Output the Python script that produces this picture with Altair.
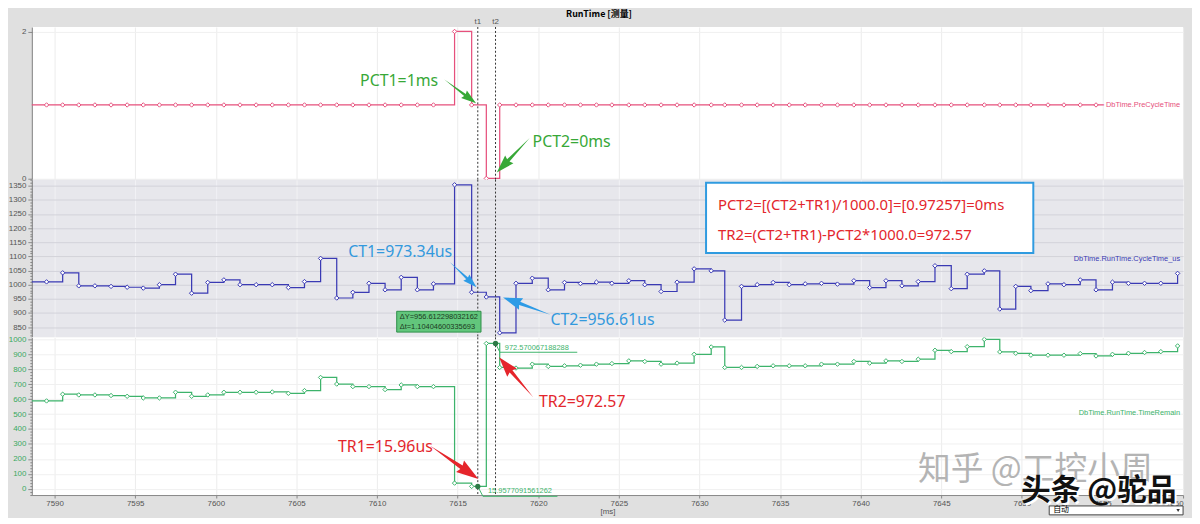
import altair as alt
import pandas as pd

# ---------------- data ----------------
chart_title = "RunTime [测量]"
times = [7588.5, 7589.5, 7590.5, 7591.5, 7592.5, 7593.5, 7594.5, 7595.5, 7596.5, 7597.5,
         7598.5, 7599.5, 7600.5, 7601.5, 7602.5, 7603.5, 7604.5, 7605.5, 7606.5, 7607.5,
         7608.5, 7609.5, 7610.5, 7611.5, 7612.5, 7613.5,
         7614.81, 7615.87, 7616.78,
         7617.61, 7618.62, 7619.63, 7620.62, 7621.63, 7622.62, 7623.61,
         7624.57, 7625.62, 7626.61, 7627.62, 7628.61, 7629.67, 7630.73, 7631.57, 7632.61, 7633.58,
         7634.57, 7635.57, 7636.56, 7637.57, 7638.56, 7639.58, 7640.56, 7641.57, 7642.56, 7643.57,
         7644.61, 7645.62, 7646.61, 7647.67, 7648.63, 7649.62, 7650.56, 7651.62, 7652.61, 7653.62,
         7654.60, 7655.62, 7656.61, 7657.61, 7658.62, 7659.66]
pre_cycle = [1, 1, 1, 1, 1, 1, 1, 1, 1, 1,
             1, 1, 1, 1, 1, 1, 1, 1, 1, 1,
             1, 1, 1, 1, 1, 1,
             2, 1, 0,
             1, 1, 1, 1, 1, 1, 1,
             1, 1, 1, 1, 1, 1, 1, 1, 1, 1,
             1, 1, 1, 1, 1, 1, 1, 1, 1, 1,
             1, 1, 1, 1, 1, 1, 1, 1, 1, 1,
             1, 1, 1, 1, 1, 1]
cycle_us = [1010, 1010, 1042, 996, 996, 994, 991, 988, 1000, 1037,
            970, 1008, 1017, 1000, 1000, 1000, 990, 1011, 1093, 953,
            973, 1005, 982, 1026, 982, 1003,
            1353, 973.34, 956.61,
            830, 1005, 1023, 982, 1008, 1004, 1009,
            1005, 1014, 1000, 976, 1009, 1056, 1049, 875, 994, 1000,
            1008, 1000, 1003, 1005, 1002, 1014, 990, 1014, 996, 1011,
            1067, 986, 1037, 1049, 914, 994, 979, 1003, 1000, 1017,
            982, 1009, 1005, 1005, 1005, 1040]
time_remain = [588, 588, 633, 628, 628, 624, 619, 608, 608, 646,
               619, 628, 646, 646, 646, 648, 639, 657, 745, 701,
               684, 684, 664, 695, 684, 684,
               38, 15.96, 972.57,
               812, 808, 834, 819, 823, 827, 834,
               838, 856, 852, 834, 841, 900, 949, 812, 812, 819,
               823, 823, 823, 834, 834, 852, 841, 856, 852, 867,
               927, 918, 951, 1000, 916, 907, 894, 894, 894, 905,
               889, 900, 907, 912, 918, 956]
series_names = ["DbTime.PreCycleTime", "DbTime.RunTime.CycleTime_us", "DbTime.RunTime.TimeRemain"]
x_ticks = [7590, 7595, 7600, 7605, 7610, 7615, 7620, 7625, 7630, 7635, 7640, 7645, 7650, 7655, 7660]
y1_ticks = [0, 0.25, 0.5, 0.75, 1, 1.25, 1.5, 1.75, 2]
y2_ticks = list(range(820, 1371, 10))
y3_ticks = list(range(-40, 1001, 20))
cursor_names = ["t1", "t2"]
cursor_times = [7616.25, 7617.35]

# annotations (data units)
pct_texts = ["PCT1=1ms", "PCT2=0ms"]
ct_texts = ["CT1=973.34us", "CT2=956.61us"]
tr_texts = ["TR2=972.57", "TR1=15.96us"]
formula_texts = ["PCT2=[(CT2+TR1)/1000.0]=[0.97257]=0ms", "TR2=(CT2+TR1)-PCT2*1000.0=972.57"]
readout_texts = ["ΔY=956.612298032162", "Δt=1.10404600335693"]
value_texts = ["972.570067188288", "15.9577091561262"]
watermark1 = "知乎 @工控小周"
watermark2 = "头条 @驼品"
dropdown_text = "自动"

# ---------------- layout ----------------
W = 1161
H1, H2, H3 = 154, 159, 159
X_DOMAIN = [7588.585, 7660.0]
Y1 = [-0.0175, 2.061]
Y2 = [813.9, 1371.0]
Y3 = [-41.8, 1013.3]

PINK = "#e6507c"
BLUE = "#3a3ab4"
GREEN = "#3db36b"
A_GREEN = "#37a837"
A_BLUE = "#3399dd"
A_RED = "#e3262c"
ARROW = "M -1 0 L 0.3 -0.07 L 0.24 -0.24 L 1 0 L 0.24 0.24 L 0.3 0.07 Z"


def xenc(bottom, grid_color):
    if bottom:
        axis = alt.Axis(values=x_ticks, format="d", title="[ms]", grid=True, gridColor=grid_color,
                        labelFontSize=8, labelColor="#555555", labelFont="Liberation Sans",
                        tickSize=3, tickColor="#888888", domainColor="#888888", labelPadding=2,
                        titleFontSize=8, titleFont="Liberation Sans", titleColor="#555555",
                        titleFontWeight="normal", titlePadding=0)
    else:
        axis = alt.Axis(values=x_ticks, labels=False, ticks=False, domain=False, grid=True,
                        gridColor=grid_color, title=None, minExtent=0, maxExtent=0)
    return alt.X("t:Q", scale=alt.Scale(domain=X_DOMAIN, nice=False, zero=False), axis=axis)


def yenc(dom, vals, major, label_color, grid_color):
    test = f"abs(datum.value - round(datum.value / {major}) * {major}) < 1e-6"
    axis = alt.Axis(values=vals, format="d", title=None, labelExpr=f"{test} ? datum.label : ''",
                    labelFontSize=8, labelFont="Liberation Sans", labelColor=label_color, labelPadding=2,
                    tickColor="#8a8a8a", tickSize={"condition": {"test": test, "value": 4}, "value": 2},
                    domainColor="#777777", grid=True, gridColor=grid_color,
                    gridOpacity={"condition": {"test": test, "value": 1}, "value": 0},
                    minExtent=20, maxExtent=20, labelOverlap=False)
    return alt.Y("v:Q", scale=alt.Scale(domain=dom, nice=False, zero=False), axis=axis)


def series_layers(vals, color, X, Y, label, label_v, halo=None):
    d = pd.DataFrame({"t": times, "v": vals})
    line = alt.Chart(d).mark_line(interpolate="step-after", color=color, strokeWidth=1.25,
                                  clip=True).encode(x=X, y=Y)
    pts = alt.Chart(d).transform_filter(f"datum.t > {X_DOMAIN[0]}").mark_point(
        shape="diamond", size=20, filled=True, fill="#ffffff", stroke=color, strokeWidth=1,
        opacity=1, clip=True).encode(x=X, y=Y)
    ldf = pd.DataFrame({"t": [X_DOMAIN[1]], "v": [label_v], "txt": [label]})
    layers = [line, pts]
    if halo:
        layers.append(alt.Chart(ldf).mark_text(
            align="right", baseline="middle", dx=-3, fontSize=7.5, font="Liberation Sans",
            color=halo, stroke=halo, strokeWidth=5).encode(x=X, y=Y, text="txt:N"))
    layers.append(alt.Chart(ldf).mark_text(
        align="right", baseline="middle", dx=-3, fontSize=7.5, font="Liberation Sans",
        color=color).encode(x=X, y=Y, text="txt:N"))
    return layers


def cursor_layer(X):
    d = pd.DataFrame({"t": cursor_times})
    return alt.Chart(d).mark_rule(color="#333333", strokeDash=[2, 2], strokeWidth=1).encode(x=X)


def text_layer(ts, vs, txts, color, X, Y, size=16, font="Noto Sans", align="left"):
    d = pd.DataFrame({"t": ts, "v": vs, "txt": txts})
    return alt.Chart(d).mark_text(align=align, baseline="middle", fontSize=size, font=font,
                                  color=color).encode(x=X, y=Y, text="txt:N")


def arrow_layer(ts, vs, angs, lens, color, X, Y):
    d = pd.DataFrame({"t": ts, "v": vs, "ang": angs, "sz": [l * l for l in lens]})
    return alt.Chart(d).mark_point(shape=ARROW, filled=True, color=color, opacity=1,
                                   strokeWidth=0).encode(
        x=X, y=Y, angle=alt.Angle("ang:Q", scale=None), size=alt.Size("sz:Q", scale=None))


# ---------------- panel 1 ----------------
X1 = xenc(False, "#ececec")
YA = yenc(Y1, y1_ticks, 1, "#555555", "#f0f0f0")
p1_layers = series_layers(pre_cycle, PINK, X1, YA, series_names[0], 1, halo="#ffffff")
p1_layers += [
    cursor_layer(X1),
    alt.Chart(pd.DataFrame({"t": cursor_times, "txt": cursor_names})).mark_text(
        baseline="bottom", fontSize=8, font="Liberation Sans", color="#555555").encode(
        x=X1, y=alt.value(-1), text="txt:N"),
    alt.Chart(pd.DataFrame({"txt": [chart_title]})).mark_text(
        font="Noto Sans CJK SC", fontWeight="bold", fontSize=9, color="#000000").encode(
        x=alt.value(572), y=alt.value(-13), text="txt:N"),
    text_layer([7608.95, 7619.65], [1.332, 0.495], pct_texts, A_GREEN, X1, YA),
    arrow_layer([7615.16, 7618.45], [1.184, 0.316], [36.9, 133.7], [40, 48], A_GREEN, X1, YA),
]
p1 = alt.layer(*p1_layers).properties(width=W, height=H1,
                                      view=alt.ViewBackground(fill="#ffffff", strokeWidth=0))

# ---------------- panel 2 ----------------
X2 = xenc(False, "#f2f2f5")
YB = yenc(Y2, y2_ticks, 50, "#555555", "#d2d2da")
p2_layers = series_layers(cycle_us, BLUE, X2, YB, series_names[1], 1090)
box_df = pd.DataFrame({"t": [7630.41], "t2": [7650.71], "v": [1360.5], "v2": [1111.7]})
ro_df = pd.DataFrame({"t": [7611.22], "t2": [7616.45], "v": [906.0], "v2": [832.5]})
p2_layers += [
    cursor_layer(X2),
    alt.Chart(box_df).mark_rect(fill="#ffffff", stroke="#2f9be0", strokeWidth=2).encode(
        x=X2, x2=alt.X2("t2:Q"), y=YB, y2=alt.Y2("v2:Q")),
    text_layer([7631.15, 7631.15], [1280, 1176], formula_texts, A_RED, X2, YB, size=15),
    alt.Chart(ro_df).mark_rect(fill="#62c67c", stroke="#2f8f4a", strokeWidth=1).encode(
        x=X2, x2=alt.X2("t2:Q"), y=YB, y2=alt.Y2("v2:Q")),
    text_layer([7611.41, 7611.41], [887.5, 850.7], readout_texts, "#1c3a22", X2, YB,
               size=7.5, font="Liberation Sans"),
    text_layer([7608.21, 7620.76], [1114.5, 874], ct_texts, A_BLUE, X2, YB),
    arrow_layer([7615.34, 7619.29], [1035.7, 924.6], [43.2, 199.9], [37, 51], "#2d9be6", X2, YB),
]
p2 = alt.layer(*p2_layers).properties(width=W, height=H2,
                                      view=alt.ViewBackground(fill="#e7e7ec", strokeWidth=0))

# ---------------- panel 3 ----------------
X3 = xenc(True, "#ececec")
YC = yenc(Y3, y3_ticks, 100, "#3aa860", "#f0f0f0")
p3_layers = series_layers(time_remain, GREEN, X3, YC, series_names[2], 510)
seg_df = pd.DataFrame({"t": [7617.35, 7617.62, 7616.25, 7616.57],
                       "v": [972.57, 913.7, 15.96, -50.4],
                       "t2": [7617.62, 7622.42, 7616.57, 7621.19],
                       "v2": [913.7, 913.7, -50.4, -50.4]})
mk_df = pd.DataFrame({"t": cursor_times, "v": [15.96, 972.57]})
p3_layers += [
    cursor_layer(X3),
    alt.Chart(seg_df).mark_rule(color=GREEN, strokeWidth=1).encode(
        x=X3, x2=alt.X2("t2:Q"), y=YC, y2=alt.Y2("v2:Q")),
    alt.Chart(mk_df).mark_point(shape="circle", size=28, filled=True, color="#2b7a45",
                                opacity=1).encode(x=X3, y=YC),
    text_layer([7617.93, 7616.88], [945, -17.3], value_texts, GREEN, X3, YC,
               size=7.5, font="Liberation Sans"),
    text_layer([7620.05, 7607.58], [583, 281], tr_texts, A_RED, X3, YC),
    arrow_layer([7618.63, 7614.79], [745.9, 177.2], [229.5, 34.5], [53, 59], "#e5252b", X3, YC),
    # watermarks
    alt.Chart(pd.DataFrame({"txt": [watermark1]})).mark_text(
        font="Noto Sans CJK SC", fontSize=33, color="#b4b4b4", align="center",
        baseline="middle").encode(x=alt.value(1012), y=alt.value(134), text="txt:N"),
    alt.Chart(pd.DataFrame({"txt": [watermark2]})).mark_text(
        font="Noto Sans CJK SC", fontSize=30, fontWeight="bold", color="#ffffff", align="center",
        baseline="middle", dx=2, dy=2).encode(x=alt.value(1076), y=alt.value(155), text="txt:N"),
    alt.Chart(pd.DataFrame({"txt": [watermark2]})).mark_text(
        font="Noto Sans CJK SC", fontSize=30, fontWeight="bold", color="#111111", align="center",
        baseline="middle").encode(x=alt.value(1076), y=alt.value(155), text="txt:N"),
    # dropdown
    alt.Chart(pd.DataFrame({"txt": [dropdown_text]})).mark_rect(
        fill="#ffffff", stroke="#444444", strokeWidth=1).encode(
        x=alt.value(1026), x2=alt.value(1161), y=alt.value(170), y2=alt.value(179)),
    alt.Chart(pd.DataFrame({"txt": [dropdown_text]})).mark_text(
        font="Noto Sans CJK SC", fontSize=8, color="#000000", align="left",
        baseline="middle").encode(x=alt.value(1030), y=alt.value(174.5), text="txt:N"),
    alt.Chart(pd.DataFrame({"txt": [dropdown_text]})).mark_point(
        shape="triangle-down", size=12, filled=True, color="#333333", opacity=1).encode(
        x=alt.value(1156), y=alt.value(174.5)),
]
p3 = alt.layer(*p3_layers).properties(width=W, height=H3,
                                      view=alt.ViewBackground(fill="#ffffff", strokeWidth=0))

chart = alt.vconcat(p1, p2, p3, spacing=0, bounds="flush").properties(
    padding={"left": 0, "top": 0, "right": 8, "bottom": 0}
).configure(background="#e0e0e0").configure_view(strokeWidth=0)

chart.save("out.html", embed_options={"renderer": "svg", "actions": False})
